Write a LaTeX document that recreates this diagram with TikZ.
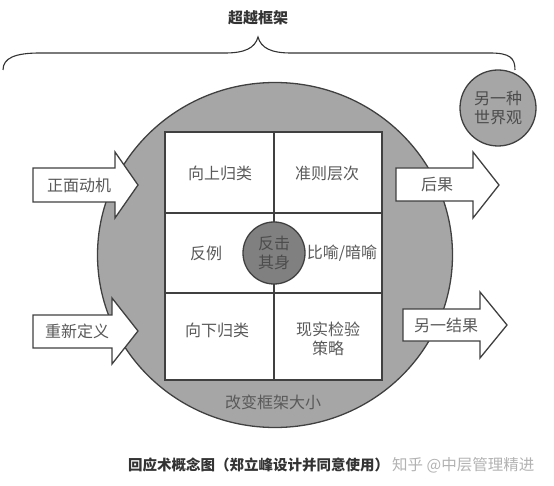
\documentclass[tikz,border=0pt]{standalone}
\usepackage{fontspec}
\usetikzlibrary{shapes.geometric}
\setmainfont{Noto Sans CJK SC}
\begin{document}
\begin{tikzpicture}[x=1pt,y=-1pt,
  outl/.style={draw=black!75,line width=1.3pt},
  lbl/.style={text=black!65,font=\fontsize{16}{19.5}\selectfont,align=center,inner sep=0pt},
  arrowbox/.style={outl,fill=white,line join=miter}]
\useasboundingbox (0,0) rectangle (554,486);
% title and brace
\node[font=\fontsize{15}{18}\selectfont\bfseries,text=black!80] (title) at (258,18) {超越框架};
\draw[black!80,line width=1.1pt] (3,70) .. controls (3,58) and (15,53) .. (40,53) -- (225,53)
  .. controls (245,53) and (255,48) .. (258,37) coordinate (tip)
  .. controls (261,48) and (271,53) .. (291,53) -- (490,53)
  .. controls (510,53) and (515,58) .. (515,70);
% big circle
\node[outl,fill=black!35,ellipse,minimum width=355pt,minimum height=345pt,inner sep=0pt] (big) at (275,255) {};
% grid
\node[outl,fill=white,minimum width=217pt,minimum height=248pt,inner sep=0pt] (grid) at (273.5,256) {};
\draw[outl] (274,132) -- (274,380);
\draw[outl] (165,213) -- (382,213);
\draw[outl] (165,293) -- (382,293);
% center circle
\node[outl,circle,fill=black!50,minimum size=62pt,inner sep=0pt,lbl,text=black!70] (core) at (274,253) {反击\\其身};
\node[lbl] (a1) at (220,173) {向上归类};
\node[lbl] (a2) at (327,173) {准则层次};
\node[lbl] (a3) at (206,253) {反例};
\node[lbl] (a4) at (342,253) {比喻/暗喻};
\node[lbl] (a5) at (217,330) {向下归类};
\node[lbl] (a6) at (328,339) {现实检验\\策略};
\node[lbl] (a7) at (273,402) {改变框架大小};
% small circle
\node[outl,circle,fill=black!35,minimum size=76pt,inner sep=0pt,lbl,text=black!70] (world) at (498,108) {另一种\\世界观};
% arrows
\draw[arrowbox] (33,168) -- (115,168) -- (115,152) -- (138,185) -- (115,218) -- (115,202) -- (33,202) -- cycle;
\node[lbl] (l1) at (79,185) {正面动机};
\draw[arrowbox] (33,315) -- (112,315) -- (112,298) -- (138,331) -- (112,364) -- (112,348) -- (33,348) -- cycle;
\node[lbl] (l2) at (77,331) {重新定义};
\draw[arrowbox] (396,168) -- (473,168) -- (473,152) -- (499,185) -- (473,218) -- (473,201) -- (396,201) -- cycle;
\node[lbl] (r1) at (437,185) {后果};
\draw[arrowbox] (403,309) -- (480,309) -- (480,292) -- (507,325) -- (480,358) -- (480,341) -- (403,341) -- cycle;
\node[lbl] (r2) at (446,325) {另一结果};
% caption
\node[anchor=west,font=\fontsize{14.5}{18}\selectfont\bfseries,text=black!80,inner sep=0pt] (cap) at (128,465) {回应术概念图（郑立峰设计并同意使用）};
\node[anchor=west,font=\fontsize{15.5}{19}\selectfont,text=black!30,inner sep=0pt] (wm) at (392,465) {知乎 @中层管理精进};
\end{tikzpicture}
\end{document}
